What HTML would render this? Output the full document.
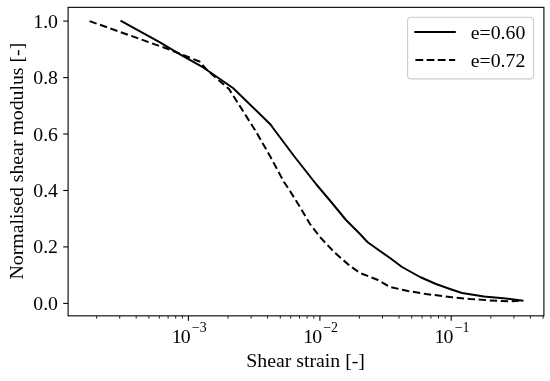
<!DOCTYPE html>
<html><head><meta charset="utf-8"><title>Shear modulus degradation</title>
<style>
html,body{margin:0;padding:0;background:#fff;}
svg{display:block;}
text{font-family:"Liberation Serif","Times New Roman",serif;font-size:19.8px;fill:#000;}
</style></head><body>
<svg width="550" height="381" viewBox="0 0 550 381">
<rect width="550" height="381" fill="#fff"/>
<g stroke="#000" stroke-width="1.1" fill="none">
<line x1="63.2" y1="303.4" x2="68.1" y2="303.4"/>
<line x1="63.2" y1="246.9" x2="68.1" y2="246.9"/>
<line x1="63.2" y1="190.5" x2="68.1" y2="190.5"/>
<line x1="63.2" y1="134.0" x2="68.1" y2="134.0"/>
<line x1="63.2" y1="77.6" x2="68.1" y2="77.6"/>
<line x1="63.2" y1="21.1" x2="68.1" y2="21.1"/>
<line x1="188.4" y1="315.9" x2="188.4" y2="320.8"/>
<line x1="319.9" y1="315.9" x2="319.9" y2="320.8"/>
<line x1="451.2" y1="315.9" x2="451.2" y2="320.8"/>
</g><g stroke="#000" stroke-width="0.85" fill="none">
<line x1="96.6" y1="315.9" x2="96.6" y2="318.7"/>
<line x1="119.7" y1="315.9" x2="119.7" y2="318.7"/>
<line x1="136.2" y1="315.9" x2="136.2" y2="318.7"/>
<line x1="148.9" y1="315.9" x2="148.9" y2="318.7"/>
<line x1="159.3" y1="315.9" x2="159.3" y2="318.7"/>
<line x1="168.1" y1="315.9" x2="168.1" y2="318.7"/>
<line x1="175.7" y1="315.9" x2="175.7" y2="318.7"/>
<line x1="182.4" y1="315.9" x2="182.4" y2="318.7"/>
<line x1="228.0" y1="315.9" x2="228.0" y2="318.7"/>
<line x1="251.1" y1="315.9" x2="251.1" y2="318.7"/>
<line x1="267.6" y1="315.9" x2="267.6" y2="318.7"/>
<line x1="280.3" y1="315.9" x2="280.3" y2="318.7"/>
<line x1="290.7" y1="315.9" x2="290.7" y2="318.7"/>
<line x1="299.5" y1="315.9" x2="299.5" y2="318.7"/>
<line x1="307.1" y1="315.9" x2="307.1" y2="318.7"/>
<line x1="313.8" y1="315.9" x2="313.8" y2="318.7"/>
<line x1="359.4" y1="315.9" x2="359.4" y2="318.7"/>
<line x1="382.5" y1="315.9" x2="382.5" y2="318.7"/>
<line x1="399.0" y1="315.9" x2="399.0" y2="318.7"/>
<line x1="411.7" y1="315.9" x2="411.7" y2="318.7"/>
<line x1="422.1" y1="315.9" x2="422.1" y2="318.7"/>
<line x1="430.9" y1="315.9" x2="430.9" y2="318.7"/>
<line x1="438.5" y1="315.9" x2="438.5" y2="318.7"/>
<line x1="445.2" y1="315.9" x2="445.2" y2="318.7"/>
<line x1="490.8" y1="315.9" x2="490.8" y2="318.7"/>
<line x1="513.9" y1="315.9" x2="513.9" y2="318.7"/>
<line x1="530.4" y1="315.9" x2="530.4" y2="318.7"/>
<line x1="543.1" y1="315.9" x2="543.1" y2="318.7"/>
</g>
<polyline points="121.4,21.1 160.0,42.3 181.8,55.4 203.6,67.7 233.0,88.0 271.0,125.0 273.0,128.0 294.0,156.0 316.0,184.0 332.0,203.0 346.0,220.0 360.0,234.0 366.0,240.5 368.0,242.5 380.0,251.0 390.0,258.0 402.0,267.0 420.0,277.0 436.0,284.0 450.0,289.0 462.0,293.0 484.0,296.6 506.0,298.6 522.5,300.6" fill="none" stroke="#000" stroke-width="2.0" stroke-linejoin="round" stroke-linecap="square"/>
<polyline points="89.6,21.1 166.0,48.3 199.5,61.5 208.0,71.0 229.0,89.0 255.0,130.0 270.0,156.0 284.0,182.0 290.0,191.0 300.0,207.0 310.0,224.0 320.0,237.0 334.0,252.0 342.0,259.0 350.0,266.0 360.0,273.0 378.0,280.0 390.0,287.0 408.0,291.0 426.0,294.0 450.0,297.0 470.0,299.0 490.0,300.4 510.0,301.4 522.5,300.6" fill="none" stroke="#000" stroke-width="2.0" stroke-linejoin="round" stroke-dasharray="7.4 3.65"/>
<rect x="68.1" y="7.35" width="475.8" height="308.5" fill="none" stroke="#000" stroke-width="1.1"/>
<text x="58" y="309.9" text-anchor="end">0.0</text>
<text x="58" y="253.4" text-anchor="end">0.2</text>
<text x="58" y="197.0" text-anchor="end">0.4</text>
<text x="58" y="140.5" text-anchor="end">0.6</text>
<text x="58" y="84.1" text-anchor="end">0.8</text>
<text x="58" y="27.6" text-anchor="end">1.0</text>
<text x="171.8" y="343.2"><tspan letter-spacing="-0.9">1</tspan>0<tspan dy="-11.4" dx="1.15" font-size="13.86px">−3</tspan></text>
<text x="303.2" y="343.2"><tspan letter-spacing="-0.9">1</tspan>0<tspan dy="-11.4" dx="1.15" font-size="13.86px">−2</tspan></text>
<text x="434.6" y="343.2"><tspan letter-spacing="-0.9">1</tspan>0<tspan dy="-11.4" dx="1.15" font-size="13.86px">−1</tspan></text>
<text x="305.6" y="366.7" text-anchor="middle">Shear strain [-]</text>
<text transform="translate(23.3 161.1) rotate(-90)" text-anchor="middle">Normalised shear modulus [-]</text>
<rect x="407.6" y="17.2" width="126" height="61.7" rx="3.5" ry="3.5" fill="#fff" fill-opacity="0.8" stroke="#ccc" stroke-width="1.1"/>
<line x1="415.3" y1="32" x2="454.8" y2="32" stroke="#000" stroke-width="2.0" stroke-linecap="square"/>
<line x1="415.4" y1="59.9" x2="455.2" y2="59.9" stroke="#000" stroke-width="2.0" stroke-dasharray="7.8 3.4"/>
<text x="470.8" y="38.8">e=0.60</text>
<text x="470.8" y="67.4">e=0.72</text>
</svg></body></html>
